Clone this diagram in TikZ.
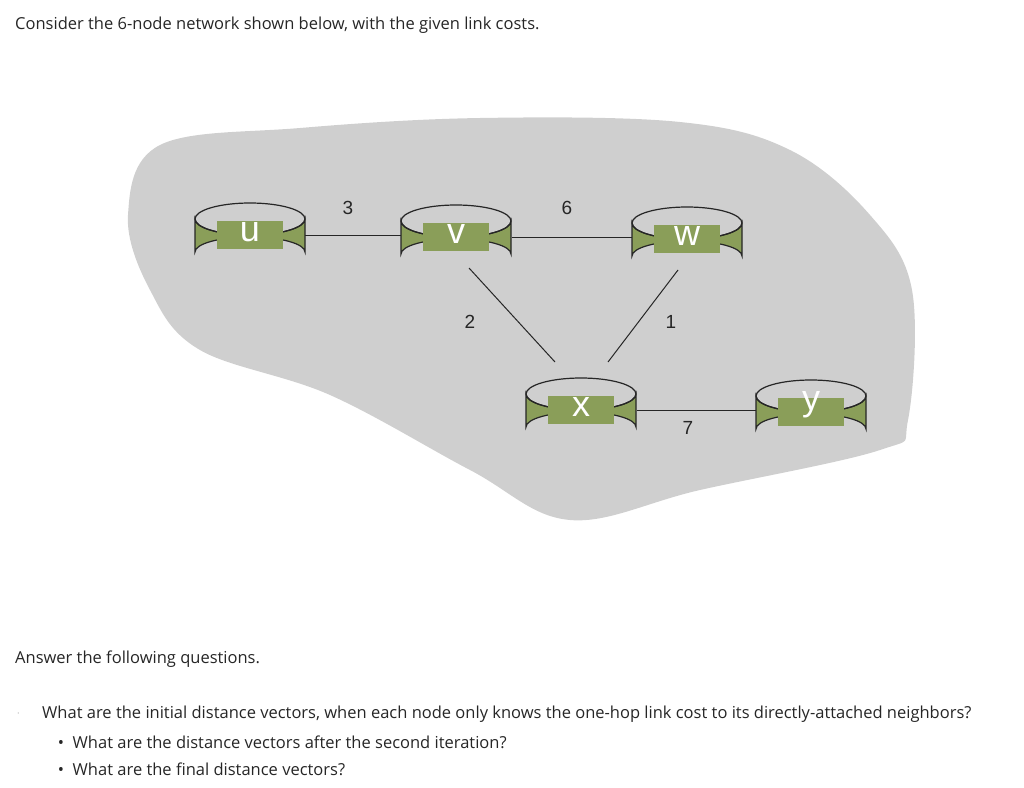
\documentclass[tikz,border=0pt]{standalone}
\usepackage{fontspec}
\usetikzlibrary{calc}
\setmainfont{Open Sans}
\newfontfamily\arialf{Liberation Sans}
\definecolor{rgreen}{RGB}{138,158,89}
\begin{document}
\begin{tikzpicture}[x=1pt,y=-1pt,
  txt/.style={anchor=west,inner sep=0,font=\fontsize{16.5}{18}\selectfont,text=black!85},
  lbl/.style={font=\arialf\fontsize{19}{20}\selectfont,text=black!85},
  rl/.style={text=white,font=\arialf\fontsize{36}{36}\selectfont},
  link/.style={line width=1pt,black!85}]
\useasboundingbox (0,0) rectangle (1024,787);
\fill[gray!38] plot[smooth cycle,tension=0.6] coordinates{(160,145) (300,128) (480,118) (680,122) (790,150) (870,215) (912,290) (908,420) (880,450) (700,490) (570,520) (470,470) (330,395) (200,350) (150,290) (128,215)};
\node[txt] (t1) at (15,25) {Consider the 6-node network shown below, with the given link costs.};
\node[txt] (t2) at (15,659) {Answer the following questions.};
\node[txt] (b0) at (17,714) {\fontsize{8}{8}\selectfont$\cdot$};
\node[txt] (t3) at (42,714) {What are the initial distance vectors, when each node only knows the one-hop link cost to its directly-attached neighbors?};
\node[txt] (t4) at (55,742) {\,•\ \ What are the distance vectors after the second iteration?};
\node[txt] (t5) at (55,769) {\,•\ \ What are the final distance vectors?};
\tikzset{router/.pic={
  \fill[draw=black!85,line width=1.2pt,fill=rgreen] (-55,0) -- (-55,33) arc[start angle=180,end angle=360,x radius=55,y radius=15] -- (55,0) arc[start angle=0,end angle=180,x radius=55,y radius=16] -- cycle;
  \draw[black!85,line width=1.2pt] (-55,0) arc[start angle=180,end angle=360,x radius=55,y radius=16];
  \draw[black!85,line width=1.2pt] (-55,0) arc[start angle=180,end angle=0,x radius=55,y radius=16];
  \fill[rgreen] (-33,2) rectangle (33,30);
}}
\foreach \n/\x/\y in {u/250/219,v/456/221,w/687/223,x/581/394,y/811/396}{
  \coordinate (\n) at (\x,\y);
  \pic at (\n) {router};
}
\node[rl] (lu) at (250,232) {u};
\node[rl] (lv) at (456,234) {v};
\node[rl] (lw) at (687,236) {w};
\node[rl] (lx) at (581,407) {x};
\node[rl] (ly) at (811,405) {y};
\draw[link] (305,235) -- (401,235);
\draw[link] (512,237) -- (632,237);
\draw[link] (637,410) -- (756,410);
\draw[link] (469,268) -- (555,362);
\draw[link] (678,270) -- (608,362);
\node[lbl] (c3) at (348,208) {3};
\node[lbl] (c6) at (567,208) {6};
\node[lbl] (c2) at (470,322) {2};
\node[lbl] (c1) at (671,322) {1};
\node[lbl] (c7) at (688,428) {7};
\end{tikzpicture}
\end{document}
